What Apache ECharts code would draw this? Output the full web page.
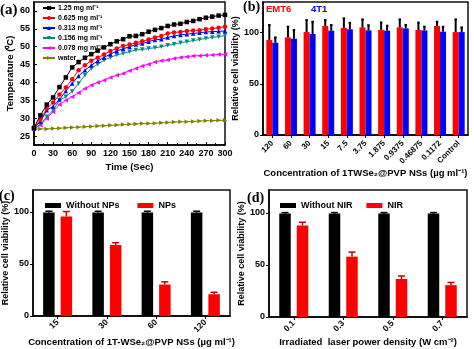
<!DOCTYPE html>
<html>
<head>
<meta charset="utf-8">
<script src="https://cdn.jsdelivr.net/npm/echarts@6/dist/echarts.min.js"></script>
<style>
  html, body { margin: 0; padding: 0; background: #fff; }
  #chart { width: 474px; height: 349px; }
</style>
</head>
<body>
<div id="chart"></div>
<script>
// (a) photothermal heating curves, sampled every 10 s
const times = [0, 10, 20, 30, 40, 50, 60, 70, 80, 90, 100, 110, 120, 130, 140, 150,
  160, 170, 180, 190, 200, 210, 220, 230, 240, 250, 260, 270, 280, 290, 300];
const temp125 = [27.3, 30.8, 33.8, 35.8, 38.7, 41.4, 44.2, 45.7, 46.9, 47.9, 48.9, 49.8, 50.7, 51.5, 52.1, 52.9,
  53.0, 53.5, 54.2, 54.7, 55.2, 55.8, 56.2, 56.4, 56.9, 57.2, 57.7, 58.1, 58.4, 58.7, 58.9];
const temp0625 = [27.3, 29.6, 32.7, 34.4, 36.6, 38.6, 40.9, 43.4, 44.8, 46.1, 46.9, 47.8, 48.8, 49.5, 50.2, 50.6,
  51.1, 51.5, 52.0, 52.6, 53.0, 53.7, 54.0, 54.1, 54.4, 54.5, 54.6, 54.9, 55.1, 55.3, 55.6];
const temp0313 = [27.2, 29.0, 32.2, 33.3, 35.2, 37.6, 39.7, 41.8, 43.4, 44.8, 46.0, 47.0, 47.9, 48.8, 49.4, 50.0,
  50.6, 50.9, 51.4, 51.9, 52.1, 52.6, 53.0, 53.3, 53.5, 53.7, 53.9, 54.1, 54.2, 54.3, 54.4];
const temp0156 = [27.0, 28.3, 30.4, 32.2, 35.0, 36.0, 37.5, 39.7, 42.0, 43.9, 45.1, 46.2, 47.0, 47.7, 48.1, 48.6,
  49.1, 49.2, 49.5, 49.7, 50.0, 50.4, 50.7, 51.1, 51.4, 51.7, 52.0, 52.3, 52.6, 52.8, 53.1];
const temp0078 = [27.0, 28.0, 29.9, 31.8, 33.8, 35.0, 36.0, 37.1, 38.3, 39.2, 40.0, 40.6, 41.4, 42.0, 42.5, 43.3,
  43.9, 44.6, 45.1, 45.7, 46.1, 46.3, 46.7, 47.0, 47.2, 47.4, 47.5, 47.6, 47.7, 47.8, 47.9];
const tempWater = [27.0, 27.0, 27.0, 27.1, 27.2, 27.3, 27.4, 27.5, 27.6, 27.7, 27.8, 27.9, 28.0, 28.1, 28.2, 28.3,
  28.4, 28.5, 28.5, 28.6, 28.7, 28.8, 28.9, 29.0, 29.0, 29.1, 29.2, 29.3, 29.3, 29.4, 29.4];
const tempTicks = [25, 30, 35, 40, 45, 50, 55, 60];

// (b) dark cytotoxicity
const catsB = ['120', '60', '30', '15', '7.5', '3.75', '1.875', '0.9375', '0.46875', '0.1172', 'Control'];
const emt6 = [92.8, 95.4, 100.6, 106.5, 104.7, 105.2, 102.8, 105.2, 102.7, 106.5, 100.6];
const emt6Err = [14.7, 10.5, 11.7, 5.8, 9.3, 7.8, 7.2, 7.8, 7.2, 4.2, 12.4];
const t41 = [90.2, 94.1, 98.7, 102.0, 103.3, 102.3, 102.0, 104.2, 102.3, 101.0, 100.6];
const t41Err = [5.2, 8.5, 12.0, 5.5, 6.4, 5.0, 4.8, 3.3, 3.6, 4.8, 4.6];
const viabTicks = [0, 50, 100];

// (c) photothermal killing vs. concentration
const catsC = ['15', '30', '60', '120'];
const withoutNPs = [99.4, 99.4, 99.4, 99.4];
const withoutNPsErr = [1.2, 1.2, 1.2, 1.2];
const withNPs = [95.5, 68.2, 30.2, 20.9];
const withNPsErr = [4.8, 2.2, 2.6, 1.9];

// (d) photothermal killing vs. laser power
const catsD = ['0.1', '0.3', '0.5', '0.7'];
const withoutNIR = [99.5, 99.5, 99.5, 99.5];
const withoutNIRErr = [0.8, 0.8, 0.8, 0.8];
const withNIR = [88.0, 58.0, 36.5, 30.6];
const withNIRErr = [3.0, 4.3, 2.9, 2.6];

const FONT = "'Liberation Sans', Arial, Helvetica, sans-serif";
const SERIF = "'Liberation Serif', 'Times New Roman', serif";
const RED = '#ff0000', BLUE = '#0000ff';

const chart = echarts.init(document.getElementById('chart'), null, { renderer: 'canvas' });

const frame = { show: true, borderColor: '#111', borderWidth: 1.5, backgroundColor: 'transparent' };
const axLine = { show: true, lineStyle: { color: '#000', width: 1.5 } };
const lbl = (size, extra) => Object.assign({ fontSize: size, fontWeight: 'bold', fontFamily: FONT, color: '#000' }, extra || {});
const nameStyle = (size) => ({ fontSize: size, fontWeight: 'bold', fontFamily: FONT, color: '#000' });

function pair(vals) { return times.map((t, i) => [t, vals[i]]); }

// error bar drawn above a bar, shifted sideways to that bar's slot
function errorBars(offset, capW, color, lw) {
  return function (params, api) {
    const c = api.value(0), v = api.value(1), e = api.value(2);
    const p0 = api.coord([c, v]);
    const p1 = api.coord([c, v + e]);
    const x = p0[0] + offset;
    return {
      type: 'group',
      children: [
        { type: 'line', shape: { x1: x, y1: p0[1], x2: x, y2: p1[1] }, style: { stroke: color, lineWidth: lw } },
        { type: 'line', shape: { x1: x - capW / 2, y1: p1[1], x2: x + capW / 2, y2: p1[1] }, style: { stroke: color, lineWidth: lw } }
      ]
    };
  };
}
function errData(vals, errs) { return vals.map((v, i) => [i, v, errs[i]]); }

const lineNames = ['1.25 mg ml\u207B\u00B9', '0.625 mg ml\u207B\u00B9', '0.313 mg ml\u207B\u00B9',
  '0.156 mg ml\u207B\u00B9', '0.078 mg ml\u207B\u00B9', 'water'];
const lineDefs = [
  { data: temp125, color: '#000000', symbol: 'rect', rot: 0 },
  { data: temp0625, color: RED, symbol: 'circle', rot: 0 },
  { data: temp0313, color: BLUE, symbol: 'triangle', rot: 0 },
  { data: temp0156, color: '#008b8b', symbol: 'triangle', rot: 180 },
  { data: temp0078, color: '#ff00ff', symbol: 'triangle', rot: 90 },
  { data: tempWater, color: '#808000', symbol: 'triangle', rot: -90 }
];

const BW_B = 6, BW_CD = 11.5, GAP_CD = 6;

const option = {
  animation: false,
  backgroundColor: '#fff',
  textStyle: { fontFamily: FONT },
  grid: [
    Object.assign({ left: 34, top: 2, width: 191, height: 143 }, frame),
    Object.assign({ left: 263, top: 2, width: 205, height: 133 }, frame),
    Object.assign({ left: 33, top: 190, width: 197, height: 126 }, frame),
    Object.assign({ left: 269, top: 190, width: 198, height: 127 }, frame)
  ],
  xAxis: [
    {
      gridIndex: 0, type: 'value', min: 0, max: 300, interval: 30,
      axisLine: axLine,
      axisTick: { show: true, inside: true, length: 3, lineStyle: { color: '#000', width: 1 } },
      minorTick: { show: true, splitNumber: 2, length: 2, lineStyle: { color: '#000' } },
      splitLine: { show: false },
      axisLabel: lbl(9, { margin: 4 }),
      name: 'Time (Sec)', nameLocation: 'middle', nameGap: 17, nameTextStyle: nameStyle(9.5)
    },
    {
      gridIndex: 1, type: 'category', data: catsB,
      axisLine: axLine,
      axisTick: { show: true, alignWithLabel: true, length: 3, lineStyle: { color: '#000' } },
      axisLabel: lbl(8, { rotate: 45, interval: 0, margin: 7 }),
      name: 'Concentration of 1TWSe\u2082@PVP NSs (\u00B5g ml\u207B\u00B9)', nameLocation: 'middle', nameGap: 33,
      nameTextStyle: nameStyle(9.5)
    },
    {
      gridIndex: 2, type: 'category', data: catsC,
      axisLine: axLine,
      axisTick: { show: true, alignWithLabel: true, length: 3, lineStyle: { color: '#000' } },
      axisLabel: lbl(8.5, { rotate: 45, interval: 0, margin: 5 }),
      name: 'Concentration of 1T-WSe\u2082@PVP NSs (\u00B5g ml\u207B\u00B9)', nameLocation: 'middle', nameGap: 20,
      nameTextStyle: nameStyle(9.5)
    },
    {
      gridIndex: 3, type: 'category', data: catsD,
      axisLine: axLine,
      axisTick: { show: true, alignWithLabel: true, length: 3, lineStyle: { color: '#000' } },
      axisLabel: lbl(8.5, { rotate: 45, interval: 0, margin: 5 }),
      name: 'Irradiated  laser power density (W cm\u207B\u00B2)', nameLocation: 'middle', nameGap: 20,
      nameTextStyle: nameStyle(9.5)
    }
  ],
  yAxis: [
    {
      gridIndex: 0, type: 'value', min: 22.5, max: 62.5,
      axisLine: axLine,
      axisTick: { show: true, inside: true, length: 3, customValues: tempTicks, lineStyle: { color: '#000' } },
      splitLine: { show: false },
      axisLabel: lbl(9, { margin: 4, customValues: tempTicks }),
      name: 'Temperature (\u2070C)', nameLocation: 'middle', nameGap: 19, nameTextStyle: nameStyle(9.5)
    },
    {
      gridIndex: 1, type: 'value', min: 0, max: 130,
      axisLine: axLine,
      axisTick: { show: true, length: 3, customValues: viabTicks, lineStyle: { color: '#000' } },
      splitLine: { show: false },
      axisLabel: lbl(9, { margin: 4, customValues: viabTicks }),
      name: 'Relative cell viability (%)', nameLocation: 'middle', nameGap: 18, nameTextStyle: nameStyle(9)
    },
    {
      gridIndex: 2, type: 'value', min: 0, max: 121,
      axisLine: axLine,
      axisTick: { show: true, length: 3, customValues: viabTicks, lineStyle: { color: '#000' } },
      splitLine: { show: false },
      axisLabel: lbl(9, { margin: 4, customValues: viabTicks }),
      name: 'Relative cell viability (%)', nameLocation: 'middle', nameGap: 19, nameTextStyle: nameStyle(9)
    },
    {
      gridIndex: 3, type: 'value', min: 0, max: 122,
      axisLine: axLine,
      axisTick: { show: true, length: 3, customValues: viabTicks, lineStyle: { color: '#000' } },
      splitLine: { show: false },
      axisLabel: lbl(9, { margin: 4, customValues: viabTicks }),
      name: 'Relative cell viability (%)', nameLocation: 'middle', nameGap: 18, nameTextStyle: nameStyle(9)
    }
  ],
  legend: [
    {
      data: lineNames, orient: 'vertical', left: 37, top: -1,
      itemWidth: 12, itemHeight: 5, itemGap: 2, selectedMode: false,
      textStyle: { fontSize: 7, fontWeight: 'bold', fontFamily: FONT, color: '#000', lineHeight: 8, padding: [0, 0, 0, -2] }
    },
    {
      data: ['Without NPs', 'NPs'], left: 40, top: 196, icon: 'rect',
      itemWidth: 16, itemHeight: 5, itemGap: 18, selectedMode: false,
      textStyle: { fontSize: 9, fontWeight: 'bold', fontFamily: FONT, color: '#000' }
    },
    {
      data: ['Without NIR', 'NIR'], left: 275, top: 196, icon: 'rect',
      itemWidth: 16, itemHeight: 5, itemGap: 14, selectedMode: false,
      textStyle: { fontSize: 9, fontWeight: 'bold', fontFamily: FONT, color: '#000' }
    }
  ],
  graphic: [
    { type: 'text', left: 0, top: 3, style: { text: '(a)', font: 'bold 15px ' + SERIF, fill: '#000' } },
    { type: 'text', left: 243, top: 0, style: { text: '(b)', font: 'bold 14px ' + SERIF, fill: '#000' } },
    { type: 'text', left: -1, top: 189, style: { text: '(c)', font: 'bold 14px ' + SERIF, fill: '#000' } },
    { type: 'text', left: 247, top: 191, style: { text: '(d)', font: 'bold 14px ' + SERIF, fill: '#000' } },
    { type: 'text', left: 266, top: 4, style: { text: 'EMT6', font: 'bold 9.5px ' + FONT, fill: RED } },
    { type: 'text', left: 311, top: 4, style: { text: '4T1', font: 'bold 9.5px ' + FONT, fill: BLUE } }
  ],
  series: [
    ...lineDefs.map((d, i) => ({
      type: 'line', name: lineNames[i], xAxisIndex: 0, yAxisIndex: 0,
      data: pair(d.data), symbol: d.symbol, symbolSize: 4.5, symbolRotate: d.rot,
      lineStyle: { color: d.color, width: 1 }, itemStyle: { color: d.color },
      z: 10 - i
    })),
    {
      type: 'bar', name: 'EMT6', xAxisIndex: 1, yAxisIndex: 1, data: emt6,
      barWidth: BW_B, barGap: '0%', itemStyle: { color: RED }
    },
    {
      type: 'bar', name: '4T1', xAxisIndex: 1, yAxisIndex: 1, data: t41,
      barWidth: BW_B, barGap: '0%', itemStyle: { color: BLUE }
    },
    {
      type: 'custom', name: 'EMT6 error', xAxisIndex: 1, yAxisIndex: 1, z: 5,
      renderItem: errorBars(-BW_B / 2, 2.5, '#000', 2), data: errData(emt6, emt6Err), encode: { x: 0, y: 1 }
    },
    {
      type: 'custom', name: '4T1 error', xAxisIndex: 1, yAxisIndex: 1, z: 5,
      renderItem: errorBars(BW_B / 2, 2.5, '#000', 2), data: errData(t41, t41Err), encode: { x: 0, y: 1 }
    },
    {
      type: 'bar', name: 'Without NPs', xAxisIndex: 2, yAxisIndex: 2, data: withoutNPs,
      barWidth: BW_CD, barGap: (GAP_CD / BW_CD * 100) + '%', itemStyle: { color: '#000' }
    },
    {
      type: 'bar', name: 'NPs', xAxisIndex: 2, yAxisIndex: 2, data: withNPs,
      barWidth: BW_CD, barGap: (GAP_CD / BW_CD * 100) + '%', itemStyle: { color: RED }
    },
    {
      type: 'custom', name: 'Without NPs error', xAxisIndex: 2, yAxisIndex: 2, z: 5,
      renderItem: errorBars(-(BW_CD + GAP_CD) / 2, 7, '#000', 1.5), data: errData(withoutNPs, withoutNPsErr), encode: { x: 0, y: 1 }
    },
    {
      type: 'custom', name: 'NPs error', xAxisIndex: 2, yAxisIndex: 2, z: 5,
      renderItem: errorBars((BW_CD + GAP_CD) / 2, 7, '#c00000', 1.5), data: errData(withNPs, withNPsErr), encode: { x: 0, y: 1 }
    },
    {
      type: 'bar', name: 'Without NIR', xAxisIndex: 3, yAxisIndex: 3, data: withoutNIR,
      barWidth: BW_CD, barGap: (GAP_CD / BW_CD * 100) + '%', itemStyle: { color: '#000' }
    },
    {
      type: 'bar', name: 'NIR', xAxisIndex: 3, yAxisIndex: 3, data: withNIR,
      barWidth: BW_CD, barGap: (GAP_CD / BW_CD * 100) + '%', itemStyle: { color: RED }
    },
    {
      type: 'custom', name: 'Without NIR error', xAxisIndex: 3, yAxisIndex: 3, z: 5,
      renderItem: errorBars(-(BW_CD + GAP_CD) / 2, 7, '#000', 1.5), data: errData(withoutNIR, withoutNIRErr), encode: { x: 0, y: 1 }
    },
    {
      type: 'custom', name: 'NIR error', xAxisIndex: 3, yAxisIndex: 3, z: 5,
      renderItem: errorBars((BW_CD + GAP_CD) / 2, 7, '#c00000', 1.5), data: errData(withNIR, withNIRErr), encode: { x: 0, y: 1 }
    }
  ]
};

chart.setOption(option);
</script>
</body>
</html>
